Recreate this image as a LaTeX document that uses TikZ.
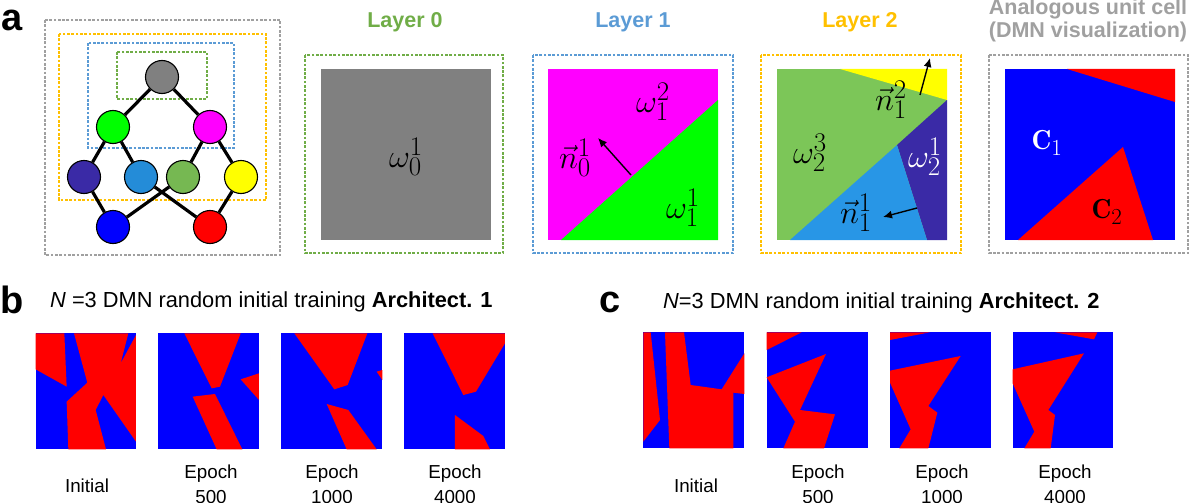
\documentclass[tikz,border=0pt]{standalone}
\usepackage{fontspec}
\newfontfamily\arial{Liberation Sans}
\usetikzlibrary{arrows.meta}

\definecolor{lgreen}{RGB}{112,173,71}
\definecolor{lblue}{RGB}{91,155,213}
\definecolor{lorange}{RGB}{255,192,0}
\definecolor{lgray}{RGB}{160,160,160}
\definecolor{cgray}{RGB}{128,128,128}
\definecolor{cpurple}{RGB}{58,42,166}
\definecolor{cblue}{RGB}{36,140,216}
\definecolor{colive}{RGB}{118,184,82}
\definecolor{cgreen}{RGB}{124,198,88}
\definecolor{cltblue}{RGB}{40,150,230}
\definecolor{cmag}{RGB}{255,0,255}
\definecolor{cyel}{RGB}{255,255,0}
\definecolor{cgrn}{RGB}{0,255,0}
\definecolor{cred}{RGB}{255,0,0}
\definecolor{cblu}{RGB}{0,0,255}

\tikzset{
  neuron/.style={circle, draw=black, line width=1.1pt, minimum size=33pt, inner sep=0pt},
  link/.style={line width=3.2pt},
  dotbox/.style={line width=2.9pt, dash pattern=on 2.7pt off 1.6pt},
  layertitle/.style={font=\arial\bfseries\fontsize{21.5}{24}\selectfont, anchor=base},
  lbl/.style={font=\fontsize{24.88}{26}\selectfont, inner sep=0pt, scale=1.3, transform shape},
  epochlbl/.style={font=\arial\fontsize{18.8}{22}\selectfont, anchor=base, inner sep=0pt},
  panel/.style={font=\arial\bfseries\fontsize{38}{40}\selectfont, anchor=base west, inner sep=0pt},
  rowtitle/.style={font=\arial\fontsize{21.8}{24}\selectfont, anchor=base west, inner sep=0pt},
  vec/.style={line width=1.4pt, -{Latex[length=9pt,width=8pt]}}
}

\begin{document}
\begin{tikzpicture}[x=1pt, y=-1pt]
\useasboundingbox (0,0) rectangle (1200,503);

% panel a: network
\node[panel] (pa) at (1,31) {a};
\draw[dotbox, lgray] (45,20) rectangle (280,255);
\draw[dotbox, lorange] (59,34) rectangle (266,200);
\draw[dotbox, lblue] (88,43) rectangle (234,148);
\draw[dotbox, lgreen] (117,52) rectangle (207,99);

\node[neuron, fill=cgray] (n0) at (162,77) {};
\node[neuron, fill=cgrn] (n11) at (113,127) {};
\node[neuron, fill=cmag] (n12) at (210,127) {};
\node[neuron, fill=cpurple] (n21) at (84,177) {};
\node[neuron, fill=cblue] (n22) at (141,177) {};
\node[neuron, fill=colive] (n23) at (183,177) {};
\node[neuron, fill=cyel] (n24) at (241,177) {};
\node[neuron, fill=cblu] (n31) at (113,227) {};
\node[neuron, fill=cred] (n32) at (210,227) {};

\draw[link] (n0) -- (n11);
\draw[link] (n0) -- (n12);
\draw[link] (n11) -- (n21);
\draw[link] (n11) -- (n22);
\draw[link] (n12) -- (n23);
\draw[link] (n12) -- (n24);
\draw[link] (n21) -- (n31);
\draw[link] (n23) -- (n31);
\draw[link] (n22) -- (n32);
\draw[link] (n24) -- (n32);

% layer 0
\node[layertitle, lgreen] (t0) at (405,28) {Layer 0};
\draw[dotbox, lgreen] (305,55) rectangle (503,253);
\fill[cgray] (321,69) rectangle (491,240);
\node[lbl] (w01) at (406,157) {$\omega_0^1$};

% layer 1
\node[layertitle, lblue] (t1) at (633,28) {Layer 1};
\draw[dotbox, lblue] (533,55) rectangle (733,253);
\fill[cmag] (548,69) rectangle (718,240);
\fill[cgrn] (561,240) -- (718,100) -- (718,240) -- cycle;
\node[lbl] (w12) at (653,102) {$\omega_1^2$};
\node[lbl] (w11) at (683,208) {$\omega_1^1$};
\node[lbl] (n01) at (575,158) {$\vec{n}_0^1$};
\coordinate (a1s) at (631,175);
\coordinate (a1e) at (598,138);
\draw[vec] (a1s) -- (a1e);

% layer 2
\node[layertitle, lorange] (t2) at (860,28) {Layer 2};
\draw[dotbox, lorange] (761,55) rectangle (961,253);
\fill[cgreen] (777,69) rectangle (947,240);
\fill[cyel] (840,69) -- (947,69) -- (947,100) -- cycle;
\fill[cpurple] (947,100) -- (947,240) -- (927,240) -- (897,145) -- cycle;
\fill[cltblue] (897,145) -- (927,240) -- (790,240) -- cycle;
\node[lbl] (w23) at (810,153) {$\omega_2^3$};
\node[lbl, white] (w21) at (925,157) {$\omega_2^1$};
\node[lbl] (n12l) at (891,100) {$\vec{n}_1^2$};
\node[lbl] (n11l) at (856,213) {$\vec{n}_1^1$};
\coordinate (a2s) at (920,95);
\coordinate (a2e) at (930,58);
\coordinate (a3s) at (917,208);
\coordinate (a3e) at (883,217);
\draw[vec] (a2s) -- (a2e);
\draw[vec] (a3s) -- (a3e);

% unit cell
\node[layertitle, lgray] (t3) at (1088,15) {Analogous unit cell};
\node[layertitle, lgray] (t3b) at (1088,38) {(DMN visualization)};
\draw[dotbox, lgray] (989,55) rectangle (1188,253);
\fill[cblu] (1005,69) rectangle (1175,240);
\fill[cred] (1067,69) -- (1175,69) -- (1175,102) -- cycle;
\fill[cred] (1123,147) -- (1018,240) -- (1153,240) -- cycle;
\node[lbl, white, scale=0.85] (c1) at (1047,143) {$\mathbf{C}_1$};
\node[lbl, scale=0.85] (c2) at (1107,212) {$\mathbf{C}_2$};

% panel b
\node[panel] (pb) at (0,313) {b};
\node[rowtitle] (tb) at (50,307) {\itshape N\upshape{} =3 DMN random initial training \textbf{Architect. 1}};
\begin{scope}[shift={(0pt,-280pt)}, x=0.33333pt, y=-0.33333pt]
  \fill[cblu] (107,160) rectangle (408,508);
  \fill[cred] (107,160) -- (193,160) -- (200,320) -- (107,268) -- cycle;
  \fill[cred] (222,160) -- (385,160) -- (362,250) -- (408,165) -- (408,485) -- (310,345) -- (287,390) -- (318,508) -- (205,508) -- (200,365) -- (262,308) -- cycle;
  \fill[cblu] (475,160) rectangle (777,508);
  \fill[cred] (553,160) -- (722,160) -- (660,320) -- (635,325) -- cycle;
  \fill[cred] (777,280) -- (722,298) -- (777,360) -- cycle;
  \fill[cred] (578,350) -- (645,342) -- (727,508) -- (650,508) -- cycle;
  \fill[cblu] (843,160) rectangle (1147,508);
  \fill[cred] (883,160) -- (1102,160) -- (1043,315) -- (1003,328) -- cycle;
  \fill[cred] (1130,275) -- (1147,270) -- (1147,300) -- cycle;
  \fill[cred] (980,372) -- (1045,390) -- (1130,508) -- (1040,508) -- cycle;
  \fill[cblu] (1212,160) rectangle (1515,508);
  \fill[cred] (1298,160) -- (1515,160) -- (1515,190) -- (1428,335) -- (1390,345) -- cycle;
  \fill[cred] (1365,405) -- (1450,468) -- (1470,508) -- (1365,508) -- cycle;
\end{scope}
\node[epochlbl] (bi) at (87,492) {Initial};
\node[epochlbl] (b1a) at (211,478) {Epoch};
\node[epochlbl] (b1b) at (211,503) {500};
\node[epochlbl] (b2a) at (332,478) {Epoch};
\node[epochlbl] (b2b) at (332,503) {1000};
\node[epochlbl] (b3a) at (455,478) {Epoch};
\node[epochlbl] (b3b) at (455,503) {4000};

% panel c
\node[panel] (pc) at (599,312) {c};
\node[rowtitle] (tc) at (663,308) {\itshape N\upshape=3 DMN random initial training \textbf{Architect. 2}};
\begin{scope}[shift={(600pt,-280pt)}, x=0.33333pt, y=-0.33333pt]
  \fill[cblu] (130,157) rectangle (433,505);
  \fill[cred] (130,157) -- (152,157) -- (180,420) -- (130,485) -- cycle;
  \fill[cred] (195,157) -- (252,157) -- (272,315) -- (365,328) -- (433,220) -- (433,342) -- (400,338) -- (400,505) -- (208,505) -- cycle;
  \fill[cblu] (500,157) rectangle (803,505);
  \fill[cred] (500,157) -- (605,157) -- (500,210) -- cycle;
  \fill[cred] (500,292) -- (678,222) -- (600,390) -- (705,403) -- (672,505) -- (550,505) -- (585,425) -- cycle;
  \fill[cblu] (870,157) rectangle (1172,505);
  \fill[cred] (870,157) -- (990,157) -- (870,180) -- cycle;
  \fill[cred] (870,272) -- (1082,228) -- (985,378) -- (1012,398) -- (985,505) -- (898,505) -- (932,448) -- (870,308) -- cycle;
  \fill[cblu] (1238,157) rectangle (1540,505);
  \fill[cred] (1365,157) -- (1492,157) -- (1482,178) -- cycle;
  \fill[cred] (1238,268) -- (1452,220) -- (1345,390) -- (1365,405) -- (1352,505) -- (1273,505) -- (1303,455) -- (1238,310) -- cycle;
\end{scope}
\node[epochlbl] (ci) at (696,492) {Initial};
\node[epochlbl] (c1a) at (818,478) {Epoch};
\node[epochlbl] (c1b) at (818,503) {500};
\node[epochlbl] (c2a) at (942,478) {Epoch};
\node[epochlbl] (c2b) at (942,503) {1000};
\node[epochlbl] (c3a) at (1065,478) {Epoch};
\node[epochlbl] (c3b) at (1065,503) {4000};
\end{tikzpicture}
\end{document}
